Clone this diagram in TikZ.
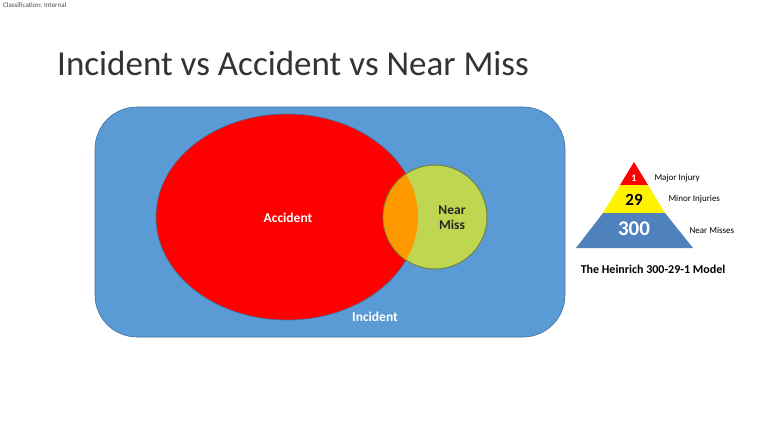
\documentclass[tikz,border=0pt]{standalone}
\usepackage{fontspec}
\setmainfont{Carlito}
\definecolor{boxblue}{RGB}{91,155,213}
\definecolor{boxedge}{RGB}{65,113,156}
\definecolor{nmgreen}{RGB}{190,214,80}
\definecolor{nmedge}{RGB}{110,130,60}
\definecolor{ovorange}{RGB}{255,153,0}
\definecolor{pyblue}{RGB}{79,129,189}
\begin{document}
\begin{tikzpicture}[x=1pt,y=-1pt,
  lbl/.style={font=\bfseries\fontsize{13.5}{15}\selectfont, text=white, align=center},
  small/.style={font=\fontsize{9}{10}\selectfont, anchor=west}]
\useasboundingbox (0,0) rectangle (768,433);
\fill[white] (0,0) rectangle (768,433);
\node[anchor=north west, inner sep=0, font=\fontsize{7}{8}\selectfont, text=black!70] (cls) at (3,2) {Classification: Internal};
\node[anchor=west, inner sep=0, font=\fontsize{35}{40}\selectfont, text=black!80] (title) at (57,63) {Incident vs Accident vs Near Miss};
\fill[fill=boxblue, draw=boxedge, line width=0.6, rounded corners=42] (95,107) rectangle (565,337);
\coordinate (ec) at (287,217);
\coordinate (gc) at (435,217);
\filldraw[fill=red, draw=boxedge, line width=0.6] (ec) ellipse [x radius=131, y radius=103];
\filldraw[fill=nmgreen, draw=nmedge, line width=0.6] (gc) circle [radius=52];
\begin{scope}
\clip (ec) ellipse [x radius=131, y radius=103];
\fill[ovorange] (gc) circle [radius=52];
\end{scope}
\draw[nmedge, line width=0.6] (gc) circle [radius=52];
\node[lbl] (acc) at (288,218) {Accident};
\node[lbl, text=black!85] (nm) at (452,218) {Near\\Miss};
\node[lbl] (inc) at (375,317) {Incident};
% pyramid
\fill[red] (634,162) -- (648,185) -- (620,185) -- cycle;
\fill[yellow] (620,185) -- (648,185) -- (665,213) -- (603,213) -- cycle;
\fill[pyblue] (603,213) -- (665,213) -- (693,248) -- (576,248) -- cycle;
\node[font=\bfseries\fontsize{10}{11}\selectfont, text=white] (p1) at (634,178) {1};
\node[font=\bfseries\fontsize{17}{18}\selectfont] (p29) at (634,200) {29};
\node[font=\bfseries\fontsize{21}{22}\selectfont, text=white] (p300) at (634,229) {300};
\node[small] (l1) at (651,178) {Major Injury};
\node[small] (l2) at (665,199) {Minor Injuries};
\node[small] (l3) at (686,230) {Near Misses};
\node[font=\bfseries\fontsize{12}{13}\selectfont] (cap) at (653,269) {The Heinrich 300-29-1 Model};
\end{tikzpicture}
\end{document}
